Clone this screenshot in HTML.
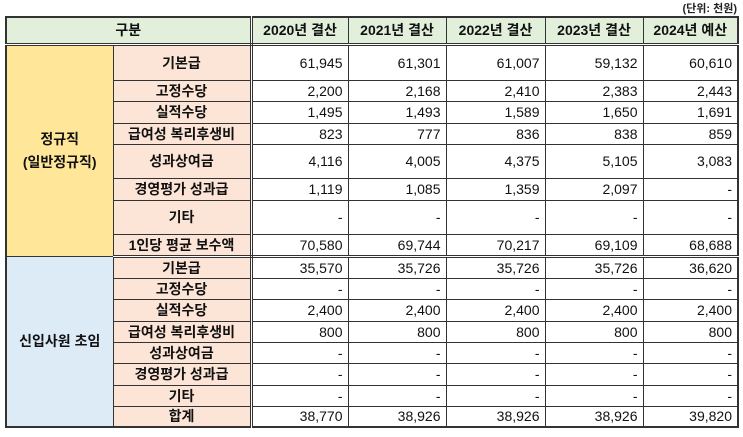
<!DOCTYPE html>
<html><head><meta charset="utf-8"><style>
body{margin:0;width:743px;height:437px;background:#fff;font-family:"Liberation Sans","Noto Sans CJK KR",sans-serif;position:relative;overflow:hidden}
.unit{position:absolute;right:6px;top:0;font-size:11px;font-weight:bold;color:#222}
table{position:absolute;left:5px;top:16px;border-collapse:collapse;table-layout:fixed;border:2px solid #333}
td{border:1px solid #333;padding:0 5px;font-size:14px;color:#111;line-height:1;white-space:nowrap;overflow:hidden}
td.n{text-align:right;background:#fff}
td.l{text-align:center;font-weight:bold;background:#fce4d6}
tr.h td{background:#e2efda;text-align:center;font-weight:bold;font-size:14px;border-bottom:3px double #333}
td.g1{background:#ffe699;text-align:center;font-weight:bold;font-size:14px;line-height:1.6}
td.g2{background:#ddebf7;text-align:center;font-weight:bold;font-size:14px}
tr.sep td{border-bottom:3px double #333}
td.c1{border-right:3px double #333}
</style></head><body>
<div class="unit">(단위: 천원)</div>
<table>
<colgroup><col style="width:107px"><col style="width:138px"><col style="width:97px"><col style="width:98px"><col style="width:99px"><col style="width:98px"><col style="width:95px"></colgroup>
<tr class="h" style="height:27px"><td colspan="2" class="c1">구분</td><td>2020년 결산</td><td>2021년 결산</td><td>2022년 결산</td><td>2023년 결산</td><td>2024년 예산</td></tr>
<tr style="height:36px"><td rowspan="8" class="g1">정규직<br>(일반정규직)</td><td class="l c1">기본급</td><td class="n">61,945</td><td class="n">61,301</td><td class="n">61,007</td><td class="n">59,132</td><td class="n">60,610</td></tr>
<tr style="height:21px"><td class="l c1">고정수당</td><td class="n">2,200</td><td class="n">2,168</td><td class="n">2,410</td><td class="n">2,383</td><td class="n">2,443</td></tr>
<tr style="height:22px"><td class="l c1">실적수당</td><td class="n">1,495</td><td class="n">1,493</td><td class="n">1,589</td><td class="n">1,650</td><td class="n">1,691</td></tr>
<tr style="height:21px"><td class="l c1">급여성 복리후생비</td><td class="n">823</td><td class="n">777</td><td class="n">836</td><td class="n">838</td><td class="n">859</td></tr>
<tr style="height:34px"><td class="l c1">성과상여금</td><td class="n">4,116</td><td class="n">4,005</td><td class="n">4,375</td><td class="n">5,105</td><td class="n">3,083</td></tr>
<tr style="height:22px"><td class="l c1">경영평가 성과급</td><td class="n">1,119</td><td class="n">1,085</td><td class="n">1,359</td><td class="n">2,097</td><td class="n">-</td></tr>
<tr style="height:34px"><td class="l c1">기타</td><td class="n">-</td><td class="n">-</td><td class="n">-</td><td class="n">-</td><td class="n">-</td></tr>
<tr class="sep" style="height:22px"><td class="l c1">1인당 평균 보수액</td><td class="n">70,580</td><td class="n">69,744</td><td class="n">70,217</td><td class="n">69,109</td><td class="n">68,688</td></tr>
<tr style="height:22px"><td rowspan="8" class="g2">신입사원 초임</td><td class="l c1">기본급</td><td class="n">35,570</td><td class="n">35,726</td><td class="n">35,726</td><td class="n">35,726</td><td class="n">36,620</td></tr>
<tr style="height:21px"><td class="l c1">고정수당</td><td class="n">-</td><td class="n">-</td><td class="n">-</td><td class="n">-</td><td class="n">-</td></tr>
<tr style="height:22px"><td class="l c1">실적수당</td><td class="n">2,400</td><td class="n">2,400</td><td class="n">2,400</td><td class="n">2,400</td><td class="n">2,400</td></tr>
<tr style="height:21px"><td class="l c1">급여성 복리후생비</td><td class="n">800</td><td class="n">800</td><td class="n">800</td><td class="n">800</td><td class="n">800</td></tr>
<tr style="height:21px"><td class="l c1">성과상여금</td><td class="n">-</td><td class="n">-</td><td class="n">-</td><td class="n">-</td><td class="n">-</td></tr>
<tr style="height:22px"><td class="l c1">경영평가 성과급</td><td class="n">-</td><td class="n">-</td><td class="n">-</td><td class="n">-</td><td class="n">-</td></tr>
<tr style="height:21px"><td class="l c1">기타</td><td class="n">-</td><td class="n">-</td><td class="n">-</td><td class="n">-</td><td class="n">-</td></tr>
<tr style="height:21px"><td class="l c1">합계</td><td class="n">38,770</td><td class="n">38,926</td><td class="n">38,926</td><td class="n">38,926</td><td class="n">39,820</td></tr>
</table>
</body></html>
